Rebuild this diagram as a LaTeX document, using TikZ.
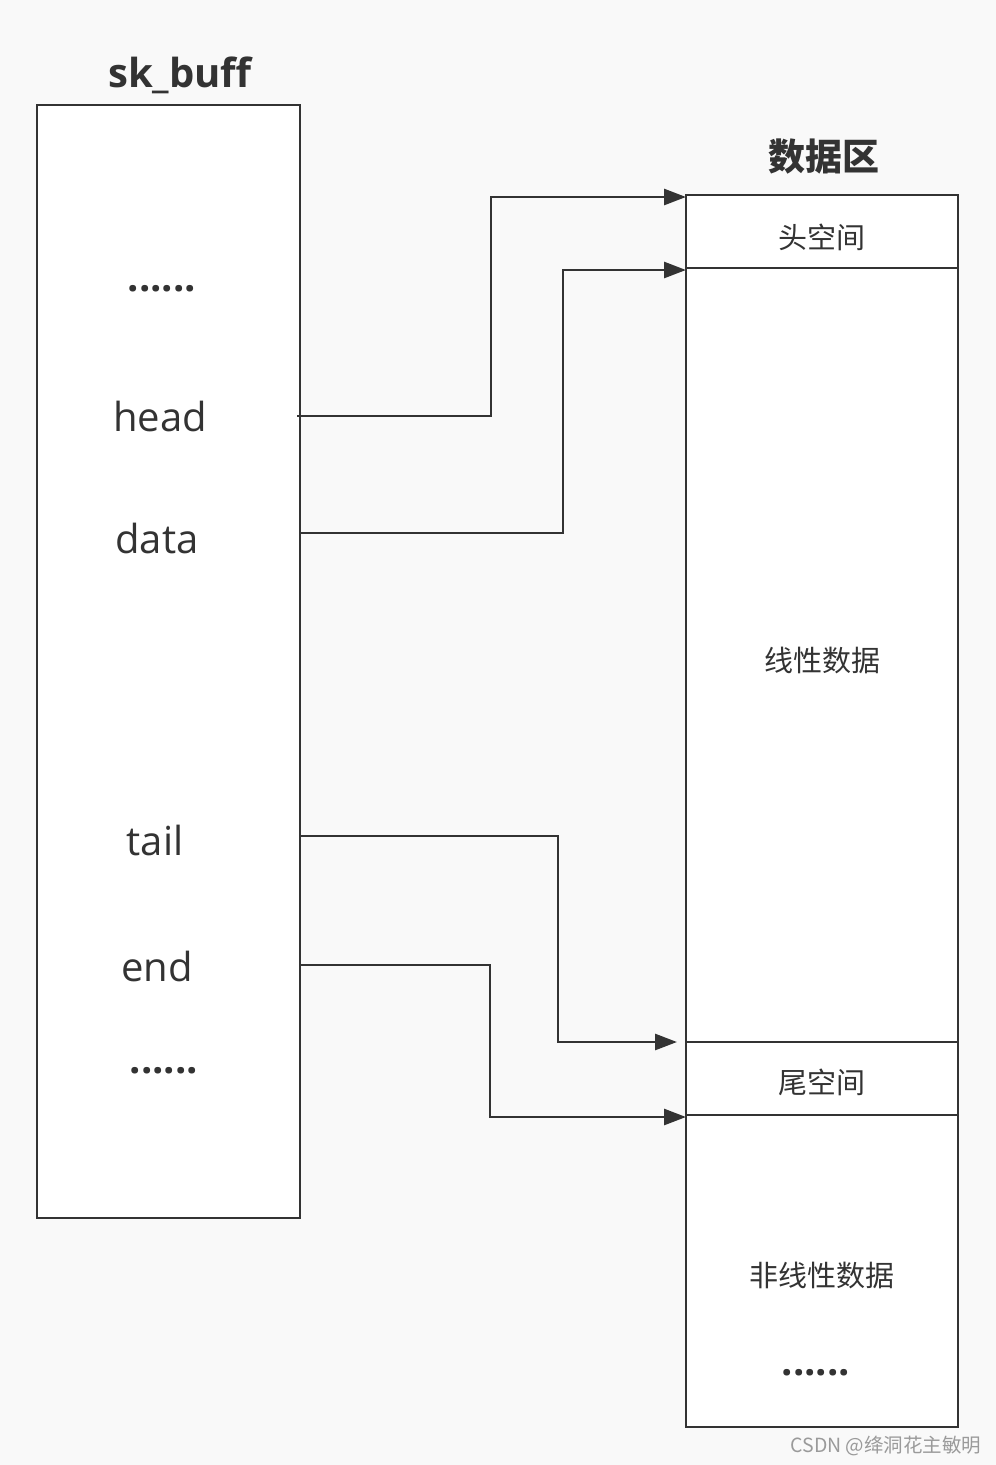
\documentclass[tikz,border=0pt]{standalone}
\usepackage{fontspec}
\setmainfont{Open Sans}
\newfontfamily\cjk{Noto Sans CJK SC}
\usetikzlibrary{arrows.meta}
\definecolor{ink}{HTML}{333333}
\definecolor{bg}{HTML}{F9F9F9}
\definecolor{wm}{HTML}{9A9A9A}
\begin{document}
\begin{tikzpicture}[x=1pt,y=-1pt,
  box/.style={draw=ink, line width=2.8pt, fill=white, inner sep=0pt, outer sep=0pt, anchor=north west},
  lbl/.style={text=ink, font=\fontsize{40}{44}\selectfont, inner sep=0pt, anchor=base},
  dots/.style={text=ink, font=\bfseries\fontsize{40}{44}\selectfont, inner sep=0pt, anchor=base},
  zh/.style={text=ink, font=\cjk\fontsize{29}{32}\selectfont, inner sep=0pt},
  ttl/.style={text=ink, font=\bfseries\fontsize{40}{44}\selectfont, inner sep=0pt, anchor=base},
  zhttl/.style={text=ink, font=\cjk\bfseries\fontsize{37}{40}\selectfont, inner sep=0pt},
  link/.style={draw=ink, line width=2.8pt, -{Triangle[length=22pt,width=16pt]}}]
\fill[bg] (0,0) rectangle (996,1465);
\useasboundingbox (0,0) rectangle (996,1465);

% left structure
\node[ttl] (skbt) at (180,87) {sk\_buff};
\node[box, minimum width=263pt, minimum height=1113pt] (skb) at (37,105) {};
\node[dots] (d1) at (162,291) {......};
\node[lbl] (head) at (160,431) {head};
\node[lbl] (data) at (157,553) {data};
\node[lbl] (tail) at (155,855) {tail};
\node[lbl] (end) at (157,981) {end};
\node[dots] (d2) at (164,1073) {......};

% right data area
\node[zhttl] (dtt) at (824,157) {数据区};
\node[box, minimum width=272pt, minimum height=73pt] (hr) at (686,195) {};
\node[box, minimum width=272pt, minimum height=774pt] (lin) at (686,268) {};
\node[box, minimum width=272pt, minimum height=73pt] (tr) at (686,1042) {};
\node[box, minimum width=272pt, minimum height=312pt] (nl) at (686,1115) {};
\node[zh] (hrt) at (822,237) {头空间};
\node[zh] (lint) at (822,660) {线性数据};
\node[zh] (trt) at (822,1082) {尾空间};
\node[zh] (nlt) at (822,1275) {非线性数据};
\node[dots] (d3) at (816,1375) {......};

% connectors
\draw[link] ([xshift=-3pt]skb.east |- 0,416) -- ++(194,0) |- ([yshift=-2pt]hr.north west);
\draw[link] (skb.east |- 0,533) -- ++(263,0) |- ([yshift=-2pt]lin.north west);
\draw[link] (skb.east |- 0,836) -- ++(258,0) |- ([xshift=-9pt]tr.north west);
\draw[link] (skb.east |- 0,965) -- ++(190,0) |- ([yshift=-2pt]nl.north west);

% watermark
\node[text=wm, font=\cjk\fontsize{19.5}{22}\selectfont, inner sep=0pt] (wmk) at (886,1446) {CSDN @绛洞花主敏明};
\end{tikzpicture}
\end{document}
